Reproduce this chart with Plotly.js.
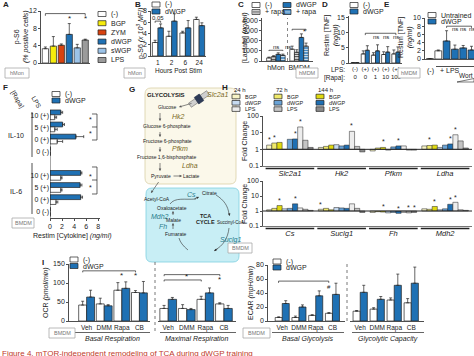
<!DOCTYPE html>
<html><head><meta charset="utf-8">
<script src="https://cdn.plot.ly/plotly-3.0.1.min.js"></script>
<style>html,body{margin:0;padding:0;background:#fff;}#chart{width:474px;height:356px;}</style>
</head><body><div id="chart"></div>
<script>
// ================= DATA =================
// A
const aGroups = ['(-)','BGP','ZYM','dWGP','sWGP','LPS'];
const aValues = [3.3, 3.9, 4.1, 6.6, 3.5, 5.3];
const aErrors = [0.4, 2.2, 0.3, 2.5, 0.8, 0.2];
// B
const bHours = ['1','2','6','24'];
const bCtrl = [2.4, 3.5, 4.1, 6.5];
const bCtrlErr = [0.4, 0.9, 0.3, 0.4];
const bDwgp = [5.0, 6.2, 5.0, 5.4];
const bDwgpErr = [0.7, 1.3, 1.3, 0.5];
// C
const cCells = ['hMon','BMDM'];
const cCtrl = [300, 1150], cCtrlErr = [80, 300];
const cCtrlRapa = [420, 850], cCtrlRapaErr = [100, 250];
const cDwgp = [650, 2300], cDwgpErr = [150, 350];
const cDwgpRapa = [550, 1450], cDwgpRapaErr = [120, 300];
// D
const dLps = ['(-)','(+)','(+)','(+)','(+)'];
const dRapa = ['0','0','1','10','100'];
const dCtrl = [0.1, 3.0, 2.6, 2.8, 3.0], dCtrlErr = [0.05, 1.0, 0.8, 0.9, 1.3];
const dDwgp = [0.1, 4.2, 4.0, 3.6, 3.6], dDwgpErr = [0.05, 1.5, 2.0, 1.8, 1.7];
// E
const eSlots = ['(-)','LPS U','LPS T','Wort 1','Wort 2','Wort 3'];
const eUntrained = [0.1, 2.0, null, null, null, null], eUntrainedErr = [0, 0.2, 0, 0, 0, 0];
const eDwgp = [null, null, 4.4, 2.4, 2.7, 2.2], eDwgpErr = [0, 0, 2.5, 1.0, 0.6, 0.9];
// F
const fRows = ['IL10 r10','IL10 r5','IL10 r0+','IL10 r0-','gap','IL6 r10','IL6 r5','IL6 r0+','IL6 r0-'];
const fRowLabels = ['10 (+)','5 (+)','0 (+)','0 (-)',' ','10 (+)','5 (+)','0 (+)','0 (-)'];
const fCtrl = [0.8, 0.8, 1.2, 0, null, 1.8, 1.8, 1.0, 0];
const fCtrlErr = [0.3, 0.4, 0.9, 0, 0, 0.2, 0.2, 0.3, 0];
const fDwgp = [1.8, 2.1, 4.3, 0, null, 5.1, 5.0, 5.1, 0];
const fDwgpErr = [0.3, 0.3, 1.3, 0, 0, 0.2, 0.3, 0.3, 0];
// H (fold change; order BGP 24/72/144, dWGP 24/72/144, LPS 24/72/144)
const hTopGenes = ['Slc2a1','Hk2','Pfkm','Ldha'];
const hBottomGenes = ['Cs','Suclg1','Fh','Mdh2'];
const hSeries = ['BGP 24 h','BGP 72 h','BGP 144 h','dWGP 24 h','dWGP 72 h','dWGP 144 h','LPS 24 h','LPS 72 h','LPS 144 h'];
const hSlc2a1 = [1.8, 2.4, 2.6, 1.0, 4.0, 4.2, 22, 3.5, 1.3];
const hHk2    = [1.3, 1.5, 1.8, 1.9, 1.6, 1.8, 12, 1.5, 0.7];
const hPfkm   = [0.8, 1.2, 1.3, 0.9, 1.4, 1.6, 1.6, 0.9, 0.9];
const hLdha   = [1.6, 1.7, 1.8, 1.3, 1.8, 2.1, 7.5, 3.2, 1.2];
const hCs     = [1.2, 1.5, 2.3, 1.4, 1.5, 3.0, 1.6, 1.3, 1.1];
const hSuclg1 = [1.3, 1.5, 1.2, 1.7, 1.6, 1.5, 3.0, 1.5, 0.8];
const hFh     = [0.8, 0.9, 0.85, 0.75, 0.8, 0.7, 0.8, 0.75, 0.8];
const hMdh2   = [1.4, 1.3, 2.0, 1.2, 1.4, 2.8, 3.8, 1.2, 1.1];
// I (OCR)
const iConds = ['Veh','DMM','Rapa','CB'];
const iBasalCtrl = [42, 45, 81, 75], iBasalCtrlErr = [10, 15, 20, 5];
const iBasalDwgp = [63, 40, 86, 74], iBasalDwgpErr = [18, 3, 17, 30];
const iMaxCtrl = [33, 33, 57, 45], iMaxCtrlErr = [8, 10, 8, 3];
const iMaxDwgp = [57, 30, 74, 33], iMaxDwgpErr = [5, 3, 13, 8];
// J (ECAR)
const jBasalCtrl = [5, 5, 8, 11], jBasalCtrlErr = [1, 2, 1, 1];
const jBasalDwgp = [25, 20, 36, 38], jBasalDwgpErr = [4, 3, 7, 16];
const jCapCtrl = [14, 17, 30, 26], jCapCtrlErr = [1, 2, 3, 6];
const jCapDwgp = [41, 31, 51, 54], jCapDwgpErr = [10, 4, 16, 23];

// ================= HELPERS =================
const W = 474, H = 356;
const px = x => x / W, py = y => 1 - y / H;
const FONT = 'Liberation Sans, Arial, sans-serif';
const BLUE = '#1f71b4', INK = '#222';
const layout = {width: W, height: H, margin: {l:0, r:0, t:0, b:0, pad:0},
  paper_bgcolor: '#fff', plot_bgcolor: 'rgba(0,0,0,0)', showlegend: false, barmode: 'group',
  hovermode: false, font: {family: FONT, size: 7, color: INK}, annotations: [], shapes: []};
const traces = [];
function axes(n, x0, x1, y0, y1, xo, yo) {
  const s = n > 1 ? String(n) : '';
  const base = {showgrid:false, zeroline:false, showline:true, linecolor:INK, linewidth:0.8,
    ticks:'outside', ticklen:2, tickwidth:0.8, tickcolor:INK, tickangle:0,
    tickfont:{size:7, family:FONT, color:INK}, fixedrange:true};
  layout['xaxis'+s] = Object.assign({}, base, {domain:[px(x0), px(x1)], anchor:'y'+s}, xo || {});
  layout['yaxis'+s] = Object.assign({}, base, {domain:[py(y1), py(y0)], anchor:'x'+s}, yo || {});
  return {x:'x'+s, y:'y'+s};
}
function errs(a) { return {type:'data', symmetric:false, array:a, arrayminus:a.map(()=>0), color:INK, thickness:0.7, width:1.5}; }
function bar(ax, x, y, color, width, offset, err, extra) {
  const t = {type:'bar', x:x, y:y, xaxis:ax.x, yaxis:ax.y, width:width, offset:offset,
    marker:{color:color, line:{color:INK, width:0.7}}};
  if (err) t.error_y = errs(err);
  traces.push(Object.assign(t, extra || {}));
}
function txt(x, y, t, size, o) {
  layout.annotations.push(Object.assign({xref:'paper', yref:'paper', x:px(x), y:py(y), text:t, showarrow:false,
    font:{size:size || 7, family:FONT, color:INK}, xanchor:'center', yanchor:'middle'}, o || {}));
}
function dtxt(ax, x, y, t, size, o) {
  layout.annotations.push(Object.assign({xref:ax.x, yref:ax.y, x:x, y:y, text:t, showarrow:false,
    font:{size:size || 7, family:FONT, color:INK}, xanchor:'center', yanchor:'middle'}, o || {}));
}
function rect(x0, y0, x1, y1, fill, lc, lw, o) {
  layout.shapes.push(Object.assign({type:'rect', xref:'paper', yref:'paper', x0:px(x0), x1:px(x1), y0:py(y1), y1:py(y0),
    line:{color:lc || INK, width:lw === undefined ? 0.7 : lw}, fillcolor:fill || 'rgba(0,0,0,0)'}, o || {}));
}
function line(x0, y0, x1, y1, lc, lw, dash) {
  layout.shapes.push({type:'line', xref:'paper', yref:'paper', x0:px(x0), x1:px(x1), y0:py(y0), y1:py(y1),
    line:{color:lc || INK, width:lw || 0.8, dash:dash || 'solid'}});
}
function dline(ax, x0, y0, x1, y1, lw) {
  layout.shapes.push({type:'line', xref:ax.x, yref:ax.y, x0:x0, x1:x1, y0:y0, y1:y1, line:{color:INK, width:lw || 0.7}});
}
function bracket(ax, x0, x1, y, drop) {
  dline(ax, x0, y, x1, y); dline(ax, x0, y, x0, y - drop); dline(ax, x1, y, x1, y - drop);
}
const P = (x, y) => px(x).toFixed(5) + ',' + py(y).toFixed(5);
function path(d, lc, lw, fill) {
  layout.shapes.push({type:'path', xref:'paper', yref:'paper', path:d, line:{color:lc || INK, width:lw || 0.7}, fillcolor:fill || 'rgba(0,0,0,0)'});
}
function arrow(x0, y0, x1, y1, color, w) {
  layout.annotations.push({xref:'paper', yref:'paper', x:px(x1), y:py(y1), ax:x0 - x1, ay:y0 - y1, axref:'pixel', ayref:'pixel',
    text:' ', showarrow:true, arrowhead:2, arrowsize:0.7, arrowwidth:w || 0.7, arrowcolor:color || '#555', font:{size:1}});
}
function cellBox(x0, y0, x1, y1, label) {
  rect(x0, y0, x1, y1, '#fff', '#a8a8a8', 0.8);
  txt((x0 + x1) / 2, (y0 + y1) / 2, label, 5.5, {font:{size:5.5, family:FONT, color:'#777'}});
}
function swatch(x, y, color, label, pattern, size, h) {
  const hh = h || 2.5;
  rect(x, y - hh, x + 8, y + hh, color, INK, 0.7);
  if (pattern) {
    for (let k = 0; k < 2; k++) line(x + 0.5, y - 0.8 + k * 1.7, x + 7.5, y - 0.8 + k * 1.7, pattern, 0.7);
  }
  txt(x + 11, y, label, size || 7, {xanchor:'left', font:{size:size || 7, family:FONT, color:INK}});
}
function letter(x, y, l) { txt(x, y, '<b>' + l + '</b>', 8, {xanchor:'left', font:{size:8, family:FONT, color:INK}}); }

// ================= PANEL A =================
const aColors = ['#ffffff','#f6ec0c','#d8420f', BLUE,'#9cc3e8','#9b9b9b'];
const axA = axes(1, 41, 90, 11, 63, {type:'category', range:[-0.55, 5.6], showticklabels:false, ticks:''},
  {range:[0, 12], tickvals:[0, 4, 8, 12]});
bar(axA, aGroups, aValues, aColors, 0.78, -0.39, aErrors);
letter(1, 4, 'A');
txt(22, 37, 'p-S6<br><i>(% positive cells)</i>', 7, {textangle:-90});
bracket(axA, 0, 5, 11.4, 0.5);
dtxt(axA, 3, 10.3, '*', 8); dtxt(axA, 5, 10.3, '*', 8);
cellBox(5, 68, 29, 78, 'hMon');
aGroups.forEach((g, i) => swatch(98, 14 + i * 9.2, aColors[i], g));

// ================= PANEL B =================
const axB = axes(2, 151, 206, 11, 56, {type:'category', range:[-0.5, 3.5], ticks:'', tickfont:{size:6.5, family:FONT, color:INK}},
  {range:[0, 8], tickvals:[0, 2, 4, 6, 8]});
bar(axB, bHours, bCtrl, '#fff', 0.4, -0.4, bCtrlErr);
bar(axB, bHours, bDwgp, BLUE, 0.4, 0, bDwgpErr);
letter(133, 4, 'B');
txt(140, 34, 'p-S6 <i>(x 10<sup>3</sup> MFI)</i>', 7, {textangle:-90});
txt(178, 70.5, 'Hours Post Stim', 6.5, {font:{size:6.5, family:FONT, color:INK}});
swatch(152, 4.5, '#fff', '(-)');
swatch(152, 11.5, BLUE, 'dWGP');
bracket(axB, -0.2, 0.2, 6.2, 0.3);
dtxt(axB, 0, 6.8, '0.05', 6);
cellBox(124, 68, 145, 78, 'hMon');

// ================= PANEL C =================
const axC = axes(3, 262, 313, 18, 61, {type:'category', range:[-0.6, 1.6], ticks:''},
  {range:[0, 4200], tickvals:[0, 1000, 2000, 3000, 4000]});
const pat = (fg, bg) => ({shape:'-', fgcolor:fg, bgcolor:bg, size:2.5, solidity:0.45});
bar(axC, cCells, cCtrl, '#fff', 0.2, -0.4, cCtrlErr);
bar(axC, cCells, cCtrlRapa, '#fff', 0.2, -0.2, cCtrlRapaErr, {marker:{color:'#fff', pattern:pat(INK, '#fff'), line:{color:INK, width:0.7}}});
bar(axC, cCells, cDwgp, BLUE, 0.2, 0, cDwgpErr);
bar(axC, cCells, cDwgpRapa, BLUE, 0.2, 0.2, cDwgpRapaErr, {marker:{color:BLUE, pattern:pat('#fff', BLUE), line:{color:INK, width:0.7}}});
layout.shapes.push({type:'line', xref:axC.x, yref:'paper', x0:0.5, x1:0.5, y0:py(61), y1:py(18), line:{color:'#555', width:0.7, dash:'dot'}});
letter(236, 4, 'C');
txt(245, 38, '[Lactate] <i>(ng/ml)</i>', 7, {textangle:-90});
swatch(252, 5, '#fff', '(-)');
swatch(252, 12, '#fff', '+ rapa', INK);
swatch(283, 5, BLUE, 'dWGP');
swatch(283, 12, BLUE, '+ rapa', '#fff');
bracket(axC, -0.3, 0.3, 1050, 80); dtxt(axC, 0, 1350, 'ns', 6);
bracket(axC, 0.7, 1.3, 3100, 120); dtxt(axC, 1.25, 2850, '*', 8);
dtxt(axC, 0.5, 1350, 'ns', 6);

// ================= PANEL D =================
const axD = axes(4, 349, 402, 16, 63,
  {range:[-0.6, 4.6], ticks:'', tickvals:[0,1,2,3,4], ticktext:dLps.map((l, i) => l + '<br>' + dRapa[i]), tickfont:{size:6, family:FONT, color:INK}},
  {range:[0, 15.5], tickvals:[0, 5, 10, 15]});
const dIdx = dLps.map((_, i) => i);
bar(axD, dIdx, dCtrl, '#fff', 0.4, -0.4, dCtrlErr);
bar(axD, dIdx, dDwgp, BLUE, 0.4, 0, dDwgpErr);
letter(320, 4, 'D');
txt(331, 36, 'Restim [TNF]<br><i>(ng/ml)</i>', 7, {textangle:-90});
txt(347, 69.5, 'LPS:', 6.5, {xanchor:'right', font:{size:6.5, family:FONT, color:INK}});
txt(347, 78, '[Rapa]:', 6.5, {xanchor:'right', font:{size:6.5, family:FONT, color:INK}});
swatch(350, 5, '#fff', '(-)');
swatch(350, 11.5, BLUE, 'dWGP');
bracket(axD, 1, 4, 9.8, 0.6);
[2, 3, 4].forEach(i => dtxt(axD, i, 8.7, 'ns', 6));
cellBox(296, 68, 318, 78, 'hMDM');

// ================= PANEL E =================
const axE = axes(5, 425, 476, 18, 59, {type:'category', range:[-0.6, 5.3], showticklabels:false, ticks:''},
  {range:[0, 10], tickvals:[0, 2, 4, 6, 8, 10]});
bar(axE, eSlots, eUntrained, '#fff', 0.82, -0.41, eUntrainedErr);
bar(axE, eSlots, eDwgp, BLUE, 0.82, -0.41, eDwgpErr);
letter(382, 4, 'E');
txt(405, 38, 'Restim [TNF]<br><i>(ng/ml)</i>', 7, {textangle:-90});
swatch(428, 15, '#fff', 'Untrained');
swatch(428, 21.5, BLUE, 'dWGP');
bracket(axE, 2, 5, 8.0, 0.4);
[3, 4, 5].forEach(i => dtxt(axE, i, 7.2, 'ns', 6));
txt(430, 71, '(-)', 7);
line(436, 66.5, 474, 66.5, INK, 0.8);
txt(450, 70, '+ LPS', 7);
path('M' + P(457, 82) + ' L' + P(474, 82) + ' L' + P(474, 78.5) + ' Z', INK, 0.6, '#fff');
txt(466, 75.5, 'Wort', 6.5);
cellBox(398, 68, 420, 78, 'hMDM');

// ================= PANEL F =================
const axF = axes(6, 50, 100, 109, 218,
  {range:[0, 8.3], tickvals:[0, 2, 4, 6, 8]},
  {type:'category', categoryarray:fRows, autorange:'reversed', tickvals:fRows, ticktext:fRowLabels, ticks:'', showline:false});
traces.push({type:'bar', orientation:'h', y:fRows, x:fDwgp, xaxis:axF.x, yaxis:axF.y, width:0.4, offset:-0.42,
  marker:{color:BLUE, line:{color:INK, width:0.7}}, error_x:errs(fDwgpErr)});
traces.push({type:'bar', orientation:'h', y:fRows, x:fCtrl, xaxis:axF.x, yaxis:axF.y, width:0.4, offset:-0.02,
  marker:{color:'#fff', line:{color:INK, width:0.7}}, error_x:errs(fCtrlErr)});
layout.shapes.push({type:'line', xref:axF.x, yref:'paper', x0:0, x1:0, y0:py(218), y1:py(110), line:{color:INK, width:0.8}});
letter(1, 88, 'F');
txt(72, 236, 'Restim [Cytokine] <i>(ng/ml)</i>', 7);
swatch(52, 94, '#fff', '(-)');
swatch(52, 100.5, BLUE, 'dWGP');
txt(17, 99, '[Rapa]', 6.5, {textangle:60, font:{size:6.5, family:FONT, color:INK}});
txt(36, 102, 'LPS', 6.5, {textangle:60, font:{size:6.5, family:FONT, color:INK}});
txt(16, 135, 'IL-10', 7); txt(16, 191, 'IL-6', 7);
line(32, 112, 32, 157, INK, 0.8); line(32, 163, 32, 214, INK, 0.8);
path('M' + P(92, 114) + ' L' + P(97, 114) + ' L' + P(97, 140) + ' L' + P(92, 140));
path('M' + P(92, 127) + ' L' + P(97, 127));
path('M' + P(92, 167) + ' L' + P(97, 167) + ' L' + P(97, 194) + ' L' + P(92, 194));
path('M' + P(92, 180) + ' L' + P(97, 180));
[120, 133, 176, 187].forEach(y => txt(90, y, '*', 7));
cellBox(12, 218, 34, 228, 'BMDM');

// ================= PANEL G (diagram) =================
function rrect(x0, y0, x1, y1, r) {
  return 'M' + P(x0 + r, y0) + ' L' + P(x1 - r, y0) + ' Q' + P(x1, y0) + ' ' + P(x1, y0 + r) + ' L' + P(x1, y1 - r) +
    ' Q' + P(x1, y1) + ' ' + P(x1 - r, y1) + ' L' + P(x0 + r, y1) + ' Q' + P(x0, y1) + ' ' + P(x0, y1 - r) +
    ' L' + P(x0, y0 + r) + ' Q' + P(x0, y0) + ' ' + P(x0 + r, y0) + ' Z';
}
letter(127, 89, 'G');
path(rrect(145, 88, 236, 184, 6), '#d9cfa6', 0.8, '#fbf8ea');
path(rrect(146, 188, 239, 262, 6), '#7fcfdf', 0.8, '#c8eef5');
const gMet = 5, gGene = 7, OL = '#7b6a1e', TEAL = '#2a7c8c';
const gfont = c => ({size:gGene, family:FONT, color:c});
txt(166, 95, '<b>GLYCOLYSIS</b>', 6);
function rot(cx, cy, w, h, a) {
  const c = Math.cos(a), s = Math.sin(a);
  const pts = [[-w/2,-h/2],[w/2,-h/2],[w/2,h/2],[-w/2,h/2]].map(([u, v]) => [cx + u*c - v*s, cy + u*s + v*c]);
  return 'M' + pts.map(p => P(p[0], p[1])).join(' L') + ' Z';
}
const ang = -0.6;
path(rot(199 - 7*Math.cos(ang), 99 - 7*Math.sin(ang), 8, 5, ang), '#555', 0.5, '#cfcfcf');
path(rot(199 + 7*Math.cos(ang), 99 + 7*Math.sin(ang), 8, 5, ang), '#555', 0.5, '#cfcfcf');
path(rot(199, 99, 6, 8, ang), '#1d2a44', 0.6, '#2e3b57');
txt(218, 95, '<i>Slc2a1</i>', gGene, {font:gfont(OL)});
arrow(193, 103, 179, 107);
txt(167, 107, 'Glucose', gMet);
arrow(160, 111, 160, 121); txt(170, 116, '<i>Hk2</i>', gGene, {xanchor:'left', font:gfont(OL)});
txt(167, 126, 'Glucose 6-phosphate', gMet);
arrow(160, 130, 160, 137);
txt(167, 141, 'Fructose 6-phosphate', gMet);
arrow(160, 145, 160, 152); txt(170, 148, '<i>Pfkm</i>', gGene, {xanchor:'left', font:gfont(OL)});
txt(166, 157, 'Fructose 1,6-bisphosphate', gMet);
arrow(160, 161, 160, 171); txt(180, 166, '<i>Ldha</i>', gGene, {xanchor:'left', font:gfont(OL)});
txt(161, 176, 'Pyruvate', gMet);
arrow(172, 176, 182, 176); txt(191, 176, 'Lactate', gMet);
arrow(160, 180, 151, 193);
txt(157, 199, 'Acetyl-CoA', gMet);
txt(191, 195, '<i>Cs</i>', gGene, {font:gfont(TEAL)});
txt(209, 193, 'Citrate', gMet);
txt(172, 208, 'Oxaloacetate', gMet);
txt(160, 216, '<i>Mdh2</i>', gGene, {font:gfont(TEAL)});
txt(173, 220, 'Malate', gMet);
arrow(173, 217, 173, 211);
txt(163, 227, '<i>Fh</i>', gGene, {font:gfont(TEAL)});
txt(176, 234, 'Fumarate', gMet);
arrow(173, 231, 173, 223);
txt(205, 216, '<b>TCA</b>', 5.5); txt(205, 222, '<b>CYCLE</b>', 5.5);
txt(230, 222, 'Succinyl-CoA', 4.5);
txt(231, 240, '<i>Suclg1</i>', gGene, {font:gfont(TEAL)});
path('M' + P(170, 204) + ' C' + P(175, 197) + ' ' + P(185, 200) + ' ' + P(196, 199), '#333', 0.6);
arrow(193, 199.3, 199, 197, '#333');
path('M' + P(216, 195) + ' C' + P(224, 200) + ' ' + P(228, 206) + ' ' + P(229, 214), '#333', 0.6);
arrow(229, 211, 229.5, 216, '#333');
path('M' + P(229, 228) + ' C' + P(228, 238) + ' ' + P(223, 246) + ' ' + P(215, 250), '#333', 0.6);
arrow(219, 248, 214, 251, '#333');
path('M' + P(188, 250) + ' C' + P(183, 246) + ' ' + P(180, 242) + ' ' + P(179, 238), '#333', 0.6);

// ================= PANEL H =================
const hColors = ['#f7f4c6','#efe96a','#e0da10','#c6daf0','#6aa3d6','#1e6fb3','#ededed','#c4c4c4','#8c8c8c'];
const hX = {range:[-0.52, 3.52], tickvals:[0,1,2,3], ticks:'', showline:true, linecolor:'#555', tickfont:{size:7.5, family:FONT, color:INK}};
const hY = {type:'log', range:[-1, 2], tickvals:[0.1, 1, 10, 100], ticktext:['0.1','1','10','100']};
const axHt = axes(7, 263, 472, 116, 166, Object.assign({ticktext:hTopGenes.map(g => '<i>' + g + '</i>')}, hX), hY);
const axHb = axes(8, 263, 472, 181, 226, Object.assign({ticktext:hBottomGenes.map(g => '<i>' + g + '</i>')}, hX), hY);
const hTopData = [hSlc2a1, hHk2, hPfkm, hLdha];
const hBottomData = [hCs, hSuclg1, hFh, hMdh2];
function hPanel(ax, genes, data, yLine) {
  hSeries.forEach((s, k) => {
    const vals = data.map(g => g[k]);
    traces.push({type:'bar', name:s, x:genes.map((_, i) => i), y:vals.map(v => v - 1), base:1, xaxis:ax.x, yaxis:ax.y,
      width:0.1, offset:-0.45 + k * 0.1, marker:{color:hColors[k], line:{color:INK, width:0.5}}});
  });
  layout.shapes.push({type:'line', xref:ax.x, yref:ax.y, x0:-0.52, x1:3.52, y0:1, y1:1, line:{color:INK, width:1}});
  genes.forEach((_, i) => layout.shapes.push({type:'line', xref:ax.x, yref:'paper', x0:i - 0.47, x1:i + 0.47,
    y0:py(yLine), y1:py(yLine), line:{color:INK, width:1.6}}));
}
hPanel(axHt, hTopGenes, hTopData, 168.5);
hPanel(axHb, hBottomGenes, hBottomData, 228.5);
function hStar(ax, data, gi, k) { dtxt(ax, gi - 0.4 + k * 0.1, Math.log10(data[gi][k] * 2.2), '*', 7); }
[[0,0],[0,1],[0,5],[0,6],[1,6],[2,2],[2,5],[3,1],[3,5],[3,6]].forEach(([g,k]) => hStar(axHt, hTopData, g, k));
[[0,2],[0,5],[1,0],[2,2],[2,5],[2,7],[2,8],[3,2],[3,5],[3,6]].forEach(([g,k]) => hStar(axHb, hBottomData, g, k));
letter(220, 87, 'H');
txt(245, 141, 'Fold Change', 7, {textangle:-90});
txt(245, 204, 'Fold Change', 7, {textangle:-90});
const hCols = [[232, '24 h'], [274, '72 h'], [316, '144 h']];
hCols.forEach(([x, lab], c) => {
  txt(x, 90, lab, 6, {xanchor:'left', font:{size:6, family:FONT, color:INK}});
  ['BGP','dWGP','LPS'].forEach((n, r) => swatch(x, 96.5 + r * 6.3, hColors[r * 3 + c], n, null, 5.5, 2.3));
});
cellBox(228, 243, 252, 253, 'BMDM');

// ================= PANEL I =================
const iTick = {type:'category', ticks:'', tickfont:{size:6.5, family:FONT, color:INK}};
const axI1 = axes(9, 69, 150, 264, 321, Object.assign({range:[-1.0, 3.6]}, iTick), {range:[0, 150], tickvals:[0, 50, 100, 150]});
const axI2 = axes(10, 158, 236, 264, 321, Object.assign({range:[-0.55, 3.65]}, iTick), {range:[0, 150], visible:false});
bar(axI1, iConds, iBasalCtrl, '#fff', 0.45, -0.45, iBasalCtrlErr);
bar(axI1, iConds, iBasalDwgp, BLUE, 0.45, 0, iBasalDwgpErr);
bar(axI2, iConds, iMaxCtrl, '#fff', 0.45, -0.45, iMaxCtrlErr);
bar(axI2, iConds, iMaxDwgp, BLUE, 0.45, 0, iMaxDwgpErr);
letter(40, 262, 'I');
txt(46, 293, 'OCR <i>(pmol/min)</i>', 7, {textangle:-90});
swatch(70, 259.5, '#fff', '(-)');
swatch(70, 266, BLUE, 'dWGP');
bracket(axI1, -0.22, 2.78, 132, 4); dtxt(axI1, 2.0, 119, '*', 8); dtxt(axI1, 2.78, 119, '*', 8);
bracket(axI2, -0.22, 2.78, 122, 4); bracket(axI2, -0.22, 1.78, 108, 4);
dtxt(axI2, 1.0, 117, '*', 8); dtxt(axI2, 2.78, 110, '*', 8);
line(155, 262, 155, 331, '#555', 0.8, 'dot');
line(74, 332.5, 150, 332.5, INK, 0.7); line(160, 332.5, 236, 332.5, INK, 0.7);
txt(112, 339, '<i>Basal Respiration</i>', 7);
txt(197, 339, '<i>Maximal Respiration</i>', 7);
cellBox(49, 328, 75, 338, 'BMDM');

// ================= PANEL J =================
const axJ1 = axes(11, 268, 345, 265, 321, Object.assign({range:[-0.85, 3.75]}, iTick), {range:[0, 80], tickvals:[0, 20, 40, 60, 80]});
const axJ2 = axes(12, 350, 424, 265, 321, Object.assign({range:[-0.6, 3.75]}, iTick), {range:[0, 80], visible:false});
bar(axJ1, iConds, jBasalCtrl, '#fff', 0.42, -0.42, jBasalCtrlErr);
bar(axJ1, iConds, jBasalDwgp, BLUE, 0.42, 0, jBasalDwgpErr);
bar(axJ2, iConds, jCapCtrl, '#fff', 0.42, -0.42, jCapCtrlErr);
bar(axJ2, iConds, jCapDwgp, BLUE, 0.42, 0, jCapDwgpErr);
txt(251, 293, 'ECAR <i>(mpH/min)</i>', 7, {textangle:-90});
swatch(273, 261.5, '#fff', '(-)');
swatch(273, 267.5, BLUE, 'dWGP');
bracket(axJ1, -0.22, 2.78, 57, 2.5); dtxt(axJ1, 2.78, 49, '#', 6);
line(347, 264, 347, 323, '#555', 0.8, 'dot');
line(272, 332.5, 344, 332.5, INK, 0.7); line(352, 332.5, 424, 332.5, INK, 0.7);
txt(307, 339, '<i>Basal Glycolysis</i>', 7);
txt(388, 339, '<i>Glycolytic Capacity</i>', 7);
cellBox(243, 328, 270, 338, 'BMDM');

// caption (cut off at the bottom edge, as in the source figure)
txt(0, 353, 'Figure 4. mTOR-independent remodeling of TCA during dWGP training', 8, {xanchor:'left', font:{size:8, family:FONT, color:'#c0392b'}});

Plotly.newPlot('chart', traces, layout, {staticPlot:true, displayModeBar:false});
</script>
</body></html>
